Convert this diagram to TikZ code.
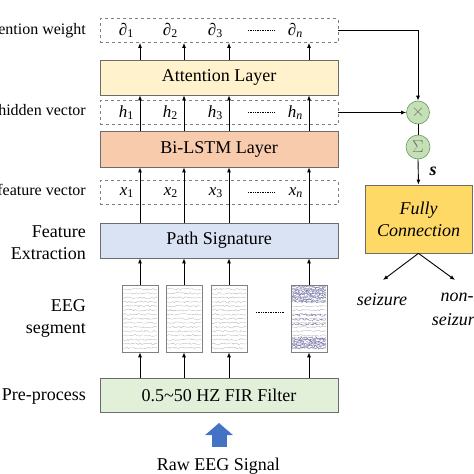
\documentclass[tikz,border=0pt]{standalone}
\usepackage{fontspec}
\setmainfont{Liberation Serif}
\usetikzlibrary{positioning, calc, arrows.meta, decorations.pathmorphing}
\definecolor{attyellow}{HTML}{FFF2CC}
\definecolor{lstmorange}{HTML}{F8CBAD}
\definecolor{sigblue}{HTML}{DAE3F3}
\definecolor{firgreen}{HTML}{E2F0D9}
\definecolor{fcyellow}{HTML}{FFD966}
\definecolor{opgreen}{HTML}{C5E0B4}
\definecolor{rawblue}{HTML}{4472C4}
\definecolor{seizink}{HTML}{4A4A8C}
\tikzset{
	layerbox/.style={
			draw=gray!85!black,
			line width=0.7pt,
			minimum width=238pt,
			minimum height=35pt,
			inner sep=0pt,
			font=\fontsize{18}{20}\selectfont
		},
	vecbox/.style={
			draw=gray,
			dashed,
			line width=0.7pt,
			minimum width=238pt,
			minimum height=24pt,
			inner sep=0pt
		},
	veclabel/.style={
			anchor=east,
			inner sep=0pt,
			font=\fontsize{17}{18}\selectfont\itshape
		},
	sidelabel/.style={
			anchor=east,
			align=right,
			inner sep=0pt,
			font=\fontsize{18}{22}\selectfont
		},
	smalllabel/.style={
			sidelabel,
			font=\fontsize{16}{18}\selectfont
		},
	segbox/.style={
			draw=gray,
			line width=0.6pt,
			minimum width=36pt,
			minimum height=67pt,
			inner sep=0pt,
			path picture={
				\foreach \k in {1,...,15}
				\draw[gray!65, line width=0.3pt, decorate,
					decoration={random steps, segment length=1.6pt, amplitude=0.9pt}]
				([xshift=1pt, yshift=-\k*4.2pt]path picture bounding box.north west) --
				([xshift=-1pt, yshift=-\k*4.2pt]path picture bounding box.north east);
			}
		},
	seizbox/.style={
			segbox,
			path picture={
				\foreach \k in {1,...,15}
				\draw[gray!65, line width=0.3pt, decorate,
					decoration={random steps, segment length=1.6pt, amplitude=0.9pt}]
				([xshift=1pt, yshift=-\k*4.2pt]path picture bounding box.north west) --
				([xshift=-1pt, yshift=-\k*4.2pt]path picture bounding box.north east);
				\foreach \k in {1,...,11,20,23,26,35,36,...,42}
				\draw[seizink!75, line width=0.35pt, decorate,
					decoration={random steps, segment length=1.2pt, amplitude=1.3pt}]
				([xshift=1pt, yshift=-\k*1.5pt]path picture bounding box.north west) --
				([xshift=-1pt, yshift=-\k*1.5pt]path picture bounding box.north east);
			}
		},
	opnode/.style={
			circle,
			draw=green!20!gray,
			fill=opgreen,
			line width=0.6pt,
			minimum size=23pt,
			inner sep=0pt,
			text=gray!90!black,
			font=\fontsize{17}{17}\selectfont
		},
	arr/.style={
			-{Latex[length=5pt, width=4pt]},
			line width=0.9pt
		},
	dotline/.style={
			line width=1pt,
			dash pattern=on 0.8pt off 0.9pt
		}
}

\begin{document}
\begin{tikzpicture}[x=1pt, y=-1pt]
\pgfmathsetseed{11}
\clip (0,0) rectangle (474,474);

% main column
\node[vecbox] (aw) at (219,30.5) {};
\node[layerbox, fill=attyellow] (att) at (219,77.5) {Attention Layer};
\node[vecbox] (hv) at (219,112.5) {};
\node[layerbox, fill=lstmorange, minimum height=36pt] (lstm) at (219,149) {Bi-LSTM Layer};
\node[vecbox] (fv) at (219,192.5) {};
\node[layerbox, fill=sigblue] (ps) at (219,240.5) {Path Signature};
\node[segbox] (seg1) at (140,318.5) {};
\node[segbox] (seg2) at (184,318.5) {};
\node[segbox] (seg3) at (229,318.5) {};
\node[seizbox] (seg4) at (309,318.5) {};
\node[layerbox, fill=firgreen, minimum height=34pt] (fir) at (219,395) {0.5\textasciitilde50 HZ FIR Filter};
\node[sidelabel] (raw) at (280,466) {Raw EEG Signal};

% row labels
\node[smalllabel] (awlab) at (86,31) {Attention weight};
\node[smalllabel] (hvlab) at (86,110) {hidden vector};
\node[smalllabel] (fvlab) at (86,190) {feature vector};
\node[sidelabel] (pslab) at (86,243) {Feature\\Extraction};
\node[sidelabel] (seglab) at (86,318) {EEG\\segment};
\node[sidelabel] (firlab) at (86,397) {Pre-process};

% vector entries
\foreach \col/\sub [count=\i] in {140/1, 184/2, 229/3, 309/\itshape n} {
  \node[veclabel] (a\i) at (\col-6,30.5) {∂\textsubscript{\upshape\sub}};
  \node[veclabel] (h\i) at (\col-6,112.5) {h\textsubscript{\upshape\sub}};
  \node[veclabel] (x\i) at (\col-6,192.5) {x\textsubscript{\upshape\sub}};
}
\draw[dotline] (248,30.5) -- (275,30.5);
\draw[dotline] (248,112.5) -- (275,112.5);
\draw[dotline] (248,192.5) -- (275,192.5);
\draw[dotline] (256,312) -- (284,312);

% upward arrows
\foreach \i in {1,2,3,4} {
  \draw[arr] (fir.north -| seg\i) -- (seg\i.south);
  \draw[arr] (seg\i.north) -- (seg\i.north |- ps.south);
  \draw[arr] (ps.north -| seg\i) -- (lstm.south -| seg\i);
  \draw[arr] (lstm.north -| seg\i) -- (att.south -| seg\i);
  \draw[arr] (att.north -| seg\i) -- (aw.south -| seg\i);
}
\coordinate (rawtail) at (219,447);
\coordinate (rawtip) at (219,423);
\draw[rawblue, line width=15pt, -{Triangle[width=27pt, length=12pt]}] (rawtail) -- (rawtip);

% attention output
\node[opnode] (mul) at (418,112.5) {$\times$};
\node[opnode, minimum size=24pt] (sum) at (418,147) {$\Sigma$};
\node[draw=gray!85!black, line width=0.7pt, fill=fcyellow, minimum width=107pt, minimum height=68pt,
  align=center, font=\fontsize{18}{22}\selectfont\itshape] (fc) at (418.5,219) {Fully\\Connection};
\node[font=\fontsize{18}{20}\selectfont\bfseries\itshape] (slab) at (433,171) {s};

\draw[arr] (aw.east) -| (mul.north);
\draw[arr] (hv.east) -- (mul.west);
\draw[line width=0.9pt] (mul.south) -- (sum.north);
\draw[arr] (sum.south) -- (fc.north);

\coordinate (seizend) at (383,280);
\coordinate (nonend) at (455,280);
\draw[arr] (fc.south) -- (seizend);
\draw[arr] (fc.south) -- (nonend);
\node[font=\fontsize{18}{22}\selectfont\itshape] (seiz) at (382,300) {seizure};
\node[align=center, font=\fontsize{18}{24}\selectfont\itshape] (nonseiz) at (457,309) {non-\\seizure};

\end{tikzpicture}
\end{document}
